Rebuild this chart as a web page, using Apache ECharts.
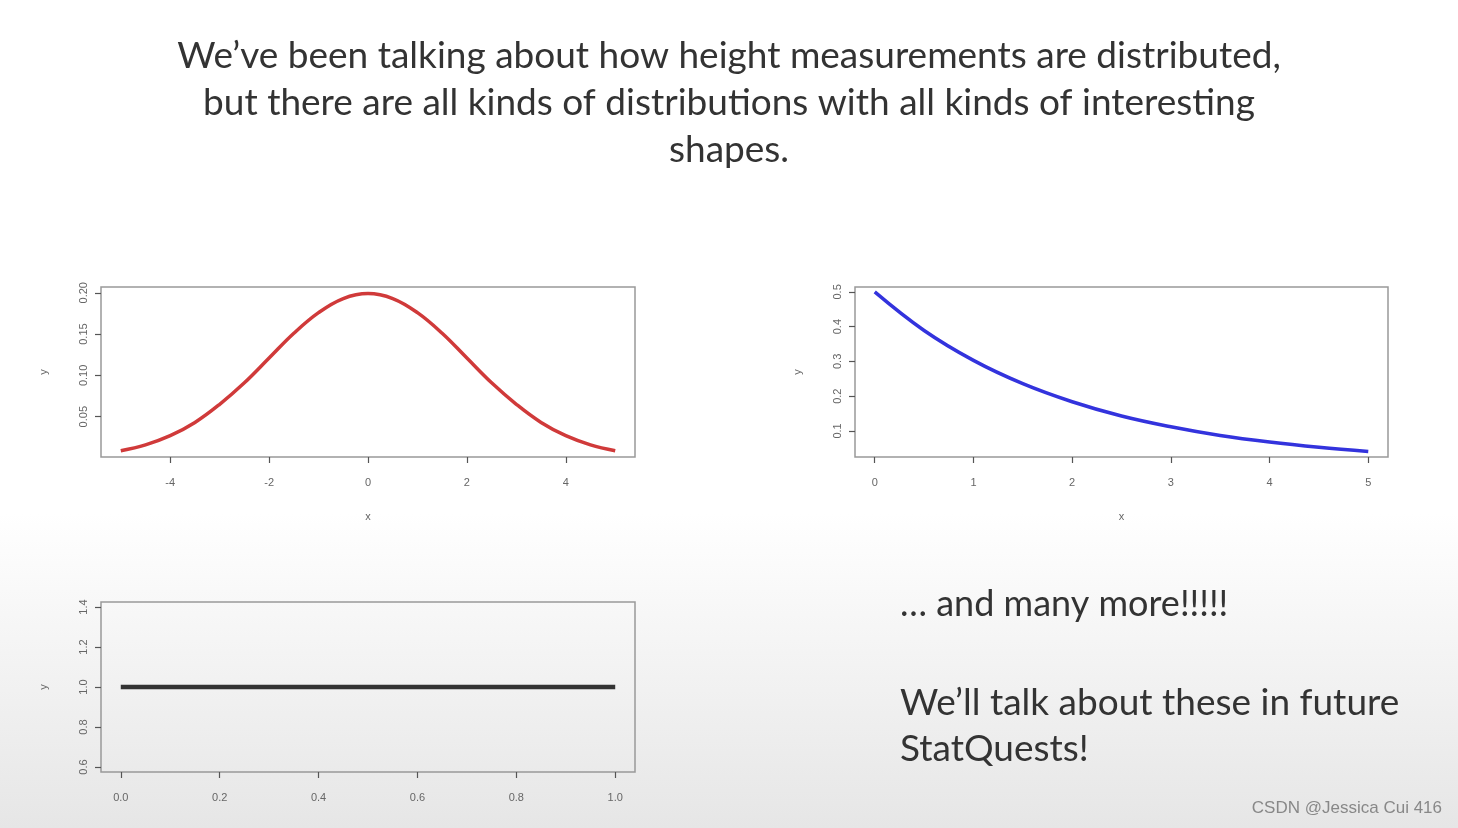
<!DOCTYPE html>
<html>
<head>
<meta charset="utf-8">
<script src="https://cdn.jsdelivr.net/npm/echarts@6/dist/echarts.min.js"></script>
<style>
  html, body { margin: 0; padding: 0; }
  #main { width: 1458px; height: 828px; background: linear-gradient(#ffffff 0%, #ffffff 62%, #e6e6e6 100%); }
</style>
</head>
<body>
<div id="main"></div>
<script>
// normal curve (sd 2)
const normX = [-5, -4.5, -4, -3.5, -3, -2.5, -2, -1.5, -1, -0.5, 0, 0.5, 1, 1.5, 2, 2.5, 3, 3.5, 4, 4.5, 5]
const normY = [0.0088, 0.0159, 0.027, 0.043, 0.065, 0.091, 0.121, 0.151, 0.176, 0.193, 0.199,
  0.193, 0.176, 0.151, 0.121, 0.091, 0.065, 0.043, 0.027, 0.0159, 0.0088]
// exponential curve
const expX = [0, 0.5, 1, 1.5, 2, 2.5, 3, 3.5, 4, 4.5, 5]
const expY = [0.5, 0.389, 0.303, 0.236, 0.184, 0.143, 0.112, 0.087, 0.068, 0.053, 0.041]
// uniform
const unifX = [0, 1]
const unifY = [1, 1]

// tick positions
const xTicks = [[-4, -2, 0, 2, 4], [0, 1, 2, 3, 4, 5], [0, 0.2, 0.4, 0.6, 0.8, 1.0]]
const yTicks = [[0.05, 0.1, 0.15, 0.2], [0.1, 0.2, 0.3, 0.4, 0.5], [0.6, 0.8, 1.0, 1.2, 1.4]]
const xDigits = [0, 0, 1]
const yDigits = [2, 1, 1]

const pairs = (xs, ys) => xs.map((x, i) => [x, ys[i]])
const tickFont = { fontFamily: 'Liberation Sans', fontSize: 11, color: '#666' }
const tickLine = { color: '#555', width: 1.2 }

const grids = [
  { left: 101, top: 287, width: 534, height: 170 },
  { left: 855, top: 287, width: 533, height: 170 },
  { left: 101, top: 602, width: 534, height: 170 },
]
const xRanges = [[-5.4, 5.4], [-0.2, 5.2], [-0.04, 1.04]]
const yRanges = [[0.0012, 0.207], [0.025, 0.514], [0.575, 1.425]]

function makeX(i) {
  return {
    type: 'value', gridIndex: i, min: xRanges[i][0], max: xRanges[i][1],
    splitLine: { show: false },
    axisLine: { show: false, onZero: false },
    axisTick: { show: true, length: 6, lineStyle: tickLine, customValues: xTicks[i] },
    axisLabel: { ...tickFont, margin: 20, customValues: xTicks[i], formatter: v => v.toFixed(xDigits[i]) },
    name: 'x', nameLocation: 'middle', nameGap: 54, nameTextStyle: tickFont,
  }
}

function makeY(i) {
  return {
    type: 'value', gridIndex: i, min: yRanges[i][0], max: yRanges[i][1],
    splitLine: { show: false },
    axisLine: { show: false, onZero: false },
    axisTick: { show: true, length: 6, lineStyle: tickLine, customValues: yTicks[i] },
    axisLabel: { ...tickFont, rotate: 90, margin: 12, customValues: yTicks[i], formatter: v => v.toFixed(yDigits[i]) },
    name: 'y', nameLocation: 'middle', nameGap: 52, nameRotate: 90, nameTextStyle: tickFont,
  }
}

const chart = echarts.init(document.getElementById('main'))
chart.setOption({
  animation: false,
  grid: grids.map((g, i) => ({
    ...g, show: true, borderColor: '#999', borderWidth: 1.5, outerBoundsMode: 'none',
    backgroundColor: i === 2 ? 'transparent' : '#fff',
  })),
  xAxis: [0, 1, 2].map(makeX),
  yAxis: [0, 1, 2].map(makeY),
  series: [
    { type: 'line', xAxisIndex: 0, yAxisIndex: 0, data: pairs(normX, normY), smooth: 0.4, showSymbol: false, lineStyle: { color: '#d03a3a', width: 3.5 } },
    { type: 'line', xAxisIndex: 1, yAxisIndex: 1, data: pairs(expX, expY), smooth: 0.4, showSymbol: false, lineStyle: { color: '#3333dd', width: 3.5 } },
    { type: 'line', xAxisIndex: 2, yAxisIndex: 2, data: pairs(unifX, unifY), showSymbol: false, lineStyle: { color: '#333', width: 4.5 } },
  ],
  graphic: [
    { type: 'text', x: 729, y: 33, style: {
      text: 'We\u2019ve been talking about how height measurements are distributed,\nbut there are all kinds of distributions with all kinds of interesting\nshapes.',
      font: '37px Lato', fill: '#333', align: 'center', lineHeight: 47 } },
    { type: 'text', left: 900, top: 586, style: { text: '\u2026 and many more!!!!!', font: '36px Lato', fill: '#333' } },
    { type: 'text', left: 900, top: 680, style: { text: 'We\u2019ll talk about these in future\nStatQuests!', font: '37px Lato', fill: '#333', lineHeight: 46 } },
    { type: 'text', right: 16, top: 800, style: { text: 'CSDN @Jessica Cui 416', font: '17px "Liberation Sans"', fill: '#888' } },
  ],
})
</script>
</body>
</html>
